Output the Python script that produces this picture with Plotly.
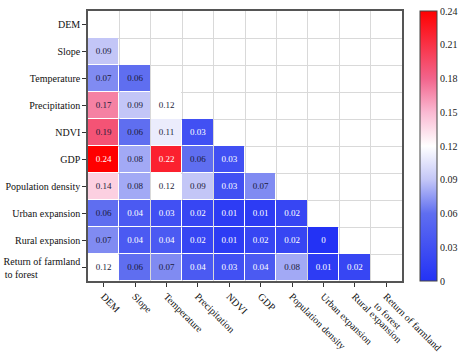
import plotly.graph_objects as go

labels = ["DEM", "Slope", "Temperature", "Precipitation", "NDVI", "GDP",
          "Population density", "Urban expansion", "Rural expansion",
          "Return of farmland to forest"]
x_ticktext = ["DEM", "Slope", "Temperature", "Precipitation", "NDVI", "GDP",
              "Population density", "Urban expansion", "Rural expansion",
              "Return of farmland<br>to forest"]
y_ticktext = ["DEM", "Slope", "Temperature", "Precipitation", "NDVI", "GDP",
              "Population density", "Urban expansion", "Rural expansion",
              "Return of farmland<br>to forest" + "\u00a0" * 17]

# lower-triangle values, row i has i entries (columns 0..i-1)
rows = [
    [],
    [0.09],
    [0.07, 0.06],
    [0.17, 0.09, 0.12],
    [0.19, 0.06, 0.11, 0.03],
    [0.24, 0.08, 0.22, 0.06, 0.03],
    [0.14, 0.08, 0.12, 0.09, 0.03, 0.07],
    [0.06, 0.04, 0.03, 0.02, 0.01, 0.01, 0.02],
    [0.07, 0.04, 0.04, 0.02, 0.01, 0.02, 0.02, 0],
    [0.12, 0.06, 0.07, 0.04, 0.03, 0.04, 0.08, 0.01, 0.02],
]
cbar_ticks = [0, 0.03, 0.06, 0.09, 0.12, 0.15, 0.18, 0.21, 0.24]

FONT = "Liberation Serif, Times New Roman, serif"

n = len(labels)
idx = list(range(n))
z = [[(rows[i][j] if j < i else None) for j in range(n)] for i in range(n)]

tx, ty, tt, tc = [], [], [], []
for i, r in enumerate(rows):
    for j, v in enumerate(r):
        tx.append(j)
        ty.append(i)
        tt.append(f"{v:g}")
        tc.append("white" if (v <= 0.04 or v >= 0.22) else "#1a1a3a")

colorscale = [
    [0.0, "rgb(35,50,245)"],
    [0.25, "rgb(95,110,240)"],
    [0.375, "rgb(195,198,247)"],
    [0.5, "rgb(255,255,255)"],
    [0.625, "rgb(250,185,210)"],
    [0.75, "rgb(242,100,140)"],
    [1.0, "rgb(255,0,0)"],
]

fig = go.Figure()
fig.add_trace(go.Heatmap(
    x=idx, y=idx, z=z, zmin=0, zmax=0.2401, colorscale=colorscale,
    xgap=1, ygap=1, hoverongaps=False,
    colorbar=dict(
        x=1.057, xanchor="left", y=0.5, yanchor="middle", len=1.0, lenmode="fraction",
        ypad=0, xpad=0,
        thickness=17, outlinewidth=1, outlinecolor="#444",
        tickvals=cbar_ticks, ticktext=[f"{t:g}" for t in cbar_ticks],
        ticks="", tickfont=dict(size=10, family=FONT, color="#222"),
    ),
))
fig.add_trace(go.Scatter(
    x=tx, y=ty, mode="text", text=tt,
    textfont=dict(color=tc, size=9, family=FONT),
    hoverinfo="skip", showlegend=False,
))

axis_common = dict(
    showgrid=False, zeroline=False, showline=True, mirror=True, automargin=False,
    linecolor="#555", linewidth=1.5, ticks="outside", ticklen=4,
    tickcolor="#333", tickfont=dict(size=10, family=FONT, color="#111"),
    tickmode="array", tickvals=idx,
    minor=dict(tick0=0.5, dtick=1, showgrid=True, gridcolor="#d9d9d9", gridwidth=1, ticks=""),
)
fig.update_xaxes(range=[-0.5, n - 0.5], ticktext=x_ticktext, tickangle=45, **axis_common)
fig.update_yaxes(range=[n - 0.5, -0.5], ticktext=y_ticktext, **axis_common)

fig.update_layout(
    width=474, height=355,
    margin=dict(l=88, r=72, t=11, b=74),
    plot_bgcolor="white", paper_bgcolor="white",
    font=dict(family=FONT, color="#111"),
    showlegend=False,
)
fig.write_html("out.html", config={"displayModeBar": False},
               post_script="document.body.style.margin='0';")
